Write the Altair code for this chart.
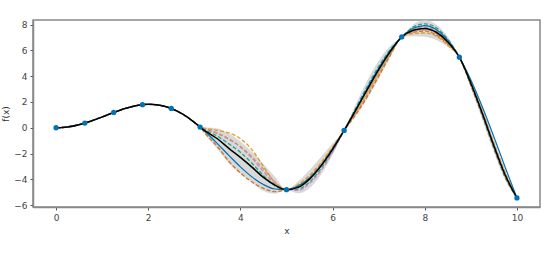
import altair as alt
import pandas as pd

# grid of x positions
xs = [0, 0.25, 0.5, 0.75, 1.0, 1.25, 1.5, 1.75, 2.0, 2.25, 2.5, 2.75, 3.0, 3.125,
      3.25, 3.5, 3.75, 4.0, 4.25, 4.5, 4.75, 5.0, 5.25, 5.5, 5.75, 6.0, 6.25,
      6.5, 6.75, 7.0, 7.25, 7.5, 7.75, 8.0, 8.25, 8.5, 8.75, 9.0, 9.25, 9.5, 9.75, 10.0]

# blue: true function
true_f = [0, 0.062, 0.240, 0.511, 0.841, 1.186, 1.496, 1.722, 1.819, 1.751, 1.496, 1.050, 0.423, 0.052,
          -0.352, -1.228, -2.143, -3.027, -3.804, -4.399, -4.747, -4.795, -4.509, -3.880, -2.923, -1.676, -0.207,
          1.398, 3.038, 4.599, 5.969, 7.035, 7.707, 7.915, 7.610, 6.787, 5.466, 3.709, 1.609, -0.713, -3.115, -5.440]

# black: predicted mean
mean_f = [0, 0.062, 0.240, 0.511, 0.841, 1.186, 1.496, 1.722, 1.819, 1.751, 1.496, 1.050, 0.423, 0.052,
          -0.28, -0.85, -1.60, -2.30, -3.05, -3.85, -4.45, -4.795, -4.62, -3.98, -2.95, -1.65, -0.207,
          1.35, 2.95, 4.50, 5.90, 7.035, 7.55, 7.70, 7.40, 6.65, 5.466, 3.45, 1.10, -1.40, -3.70, -5.440]

# grey band
band_lo = [-0.02, 0.04, 0.22, 0.49, 0.82, 1.17, 1.48, 1.70, 1.80, 1.73, 1.48, 1.03, 0.40, 0.052,
           -0.58, -1.65, -2.75, -3.55, -4.25, -4.90, -5.10, -4.795, -5.07, -4.68, -3.65, -2.10, -0.207,
           0.90, 2.25, 3.80, 5.45, 7.035, 7.10, 7.05, 6.80, 6.25, 5.466, 3.10, 0.60, -1.90, -4.05, -5.440]
band_hi = [0.02, 0.08, 0.26, 0.53, 0.86, 1.20, 1.52, 1.74, 1.84, 1.77, 1.51, 1.07, 0.44, 0.052,
           0.02, -0.05, -0.45, -1.05, -1.85, -2.80, -3.80, -4.795, -4.17, -3.28, -2.25, -1.20, -0.207,
           1.80, 3.65, 5.20, 6.35, 7.035, 8.00, 8.35, 8.00, 7.05, 5.466, 3.80, 1.60, -0.90, -3.35, -5.440]

# dashed posterior samples
s_orange = [0, 0.062, 0.240, 0.511, 0.841, 1.186, 1.496, 1.722, 1.819, 1.751, 1.496, 1.050, 0.423, 0.052,
            -0.05, -0.20, -0.40, -0.85, -1.70, -3.00, -4.25, -4.795, -4.40, -3.70, -2.70, -1.50, -0.207,
            1.10, 2.60, 4.20, 5.70, 7.035, 7.30, 7.35, 7.10, 6.40, 5.466, 3.50, 1.20, -1.20, -3.50, -5.440]
s_green = [0, 0.062, 0.240, 0.511, 0.841, 1.186, 1.496, 1.722, 1.819, 1.751, 1.496, 1.050, 0.423, 0.052,
           -0.20, -0.65, -1.25, -1.90, -2.75, -3.70, -4.50, -4.795, -4.75, -4.20, -3.15, -1.80, -0.207,
           1.50, 3.20, 4.75, 6.05, 7.035, 7.80, 8.05, 7.75, 6.85, 5.466, 3.30, 0.90, -1.60, -3.90, -5.440]
s_red = [0, 0.062, 0.240, 0.511, 0.841, 1.186, 1.496, 1.722, 1.819, 1.751, 1.496, 1.050, 0.423, 0.052,
         -0.50, -1.45, -2.60, -3.50, -4.20, -4.70, -4.95, -4.795, -4.55, -3.85, -2.85, -1.55, -0.207,
         1.00, 2.40, 4.00, 5.60, 7.035, 7.40, 7.50, 7.20, 6.50, 5.466, 3.30, 1.00, -1.50, -3.80, -5.440]
s_purple = [0, 0.062, 0.240, 0.511, 0.841, 1.186, 1.496, 1.722, 1.819, 1.751, 1.496, 1.050, 0.423, 0.052,
            -0.12, -0.45, -0.90, -1.50, -2.35, -3.40, -4.35, -4.795, -4.85, -4.30, -3.30, -1.90, -0.207,
            1.30, 2.90, 4.45, 5.85, 7.035, 7.60, 7.80, 7.50, 6.70, 5.466, 3.45, 1.05, -1.45, -3.75, -5.440]
s_brown = [0, 0.062, 0.240, 0.511, 0.841, 1.186, 1.496, 1.722, 1.819, 1.751, 1.496, 1.050, 0.423, 0.052,
           -0.10, -0.40, -0.85, -1.45, -2.25, -3.20, -4.20, -4.795, -4.50, -3.90, -2.90, -1.60, -0.207,
           1.20, 2.75, 4.30, 5.75, 7.035, 7.45, 7.60, 7.30, 6.55, 5.466, 3.55, 1.25, -1.25, -3.60, -5.440]

sample_names = ["s1", "s2", "s3", "s4", "s5"]
sample_colors = ["#DE8F05", "#029E73", "#D55E00", "#CC78BC", "#CA9161"]

# training observations
obs_x = [0, 0.625, 1.25, 1.875, 2.5, 3.125, 5.0, 6.25, 7.5, 8.75, 10.0]
obs_y = [0, 0.366, 1.186, 1.789, 1.496, 0.052, -4.795, -0.207, 7.035, 5.466, -5.440]

x_ticks = [0, 2, 4, 6, 8, 10]
y_ticks = [-6, -4, -2, 0, 2, 4, 6, 8]

curves = pd.DataFrame({"x": xs, "true": true_f, "mean": mean_f, "lo": band_lo, "hi": band_hi})
samples = pd.concat([
    pd.DataFrame({"x": xs, "y": vals, "s": name})
    for name, vals in zip(sample_names, [s_orange, s_green, s_red, s_purple, s_brown])
])
obs = pd.DataFrame({"x": obs_x, "y": obs_y})

xscale = alt.Scale(domain=[-0.5, 10.5], nice=False, zero=False)
yscale = alt.Scale(domain=[-6.14, 8.35], nice=False, zero=False)

xaxis = alt.Axis(values=x_ticks, title="x", grid=False, tickSize=3, labelPadding=3,
                 titlePadding=4, labelOverlap=False)
yaxis = alt.Axis(values=y_ticks, title="f(x)", grid=False, tickSize=3, labelPadding=3,
                 titlePadding=3, labelOverlap=False)

X = alt.X("x:Q", scale=xscale, axis=xaxis)

band = alt.Chart(curves).mark_area(color="#cccccc", opacity=0.75, interpolate="monotone", clip=True).encode(
    x=X,
    y=alt.Y("lo:Q", scale=yscale, axis=yaxis),
    y2="hi:Q",
)

samp = alt.Chart(samples).mark_line(strokeWidth=1.3, strokeDash=[4, 2], opacity=0.85,
                                    interpolate="monotone", clip=True).encode(
    x=X,
    y=alt.Y("y:Q", scale=yscale, axis=yaxis),
    color=alt.Color("s:N", scale=alt.Scale(domain=sample_names, range=sample_colors), legend=None),
    detail="s:N",
)

true_line = alt.Chart(curves).mark_line(color="#0173B2", strokeWidth=1.2, interpolate="monotone", clip=True).encode(
    x=X,
    y=alt.Y("true:Q", scale=yscale, axis=yaxis),
)

mean_line = alt.Chart(curves).mark_line(color="#000000", strokeWidth=1.5, interpolate="monotone", clip=True).encode(
    x=X,
    y=alt.Y("mean:Q", scale=yscale, axis=yaxis),
)

pts = alt.Chart(obs).mark_circle(color="#0173B2", size=28, opacity=1).encode(
    x=X,
    y=alt.Y("y:Q", scale=yscale, axis=yaxis),
)

chart = alt.layer(band, samp, true_line, mean_line, pts).properties(
    width=507, height=187,
    autosize=alt.AutoSizeParams(type="none"),
    padding={"left": 33, "top": 20, "right": 4, "bottom": 49},
).configure_view(
    stroke="#888888", strokeWidth=1.5
).configure_axis(
    domainColor="#888888", domainWidth=1.5, tickColor="#555555", tickWidth=1,
    labelFont="DejaVu Sans", labelFontSize=9, labelColor="#444444", labelOverlap=False,
    titleFont="DejaVu Sans", titleFontSize=9, titleFontWeight="normal", titleColor="#333333",
)

chart.save("out.html", embed_options={"renderer": "svg", "actions": False})
